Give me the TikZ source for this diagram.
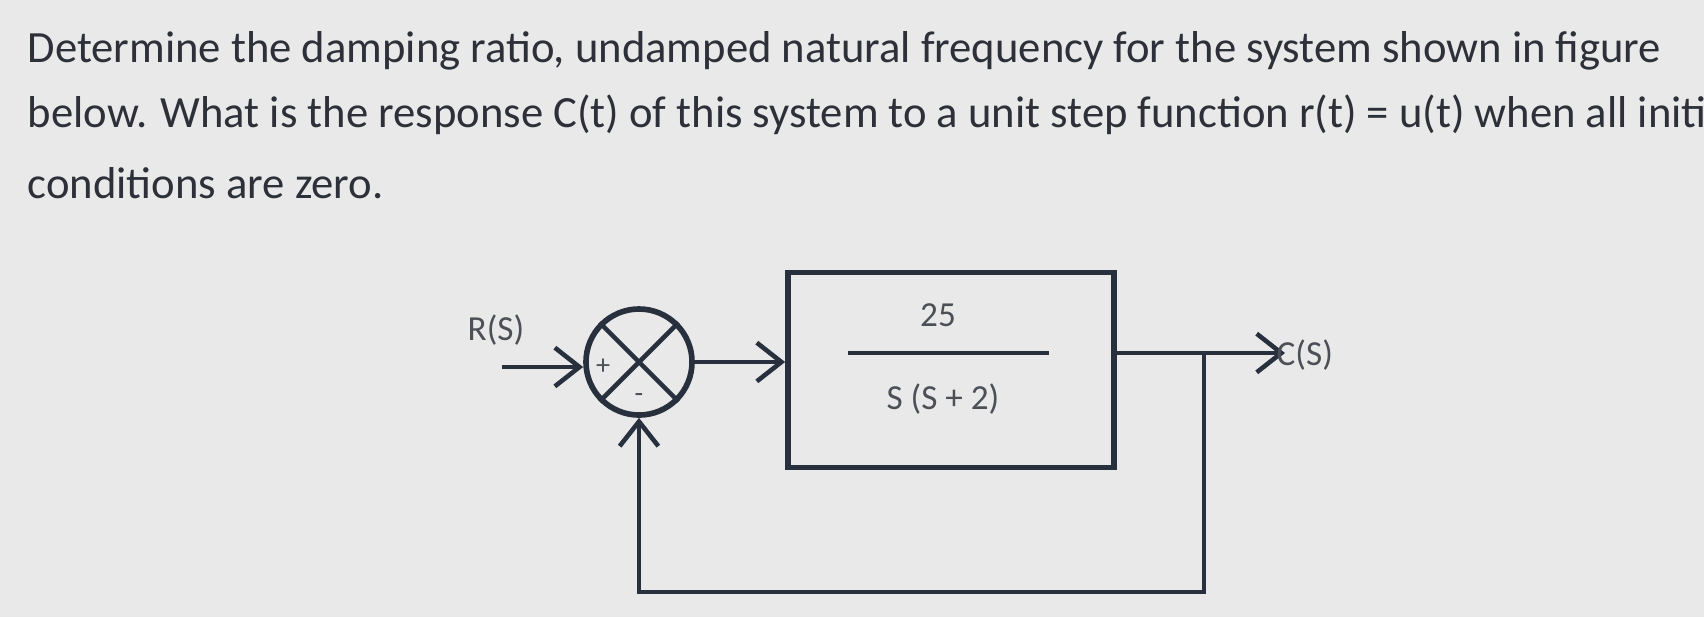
\documentclass[tikz,border=0pt]{standalone}
\usepackage{fontspec}
\setmainfont{Carlito}
\usetikzlibrary{arrows.meta}
\definecolor{ink}{RGB}{40,48,62}
\definecolor{txt}{RGB}{45,48,56}
\definecolor{bg}{RGB}{232,233,232}
\begin{document}
\begin{tikzpicture}[x=0.01cm,y=-0.01cm,
  wire/.style={draw=ink,line width=1.3pt},
  arr/.style={wire,-{Straight Barb[length=7pt,width=11pt,line width=1.3pt]}},
  para/.style={anchor=west,text=txt,font=\fontsize{12.7pt}{14pt}\selectfont,inner sep=0},
  lab/.style={text=txt!85,font=\fontsize{10pt}{11pt}\selectfont,inner sep=0}]
\fill[bg] (0,0) rectangle (1704,617);
\useasboundingbox (0,0) rectangle (1704,617);
\begin{scope}
\clip (0,0) rectangle (1704,617);
\node[para] (l1) at (27,51) {Determine the damping ratio, undamped natural frequency for the system shown in figure};
\node[para] (l2) at (27,115) {below. What is the response C(t) of this system to a unit step function r(t) = u(t) when all initial};
\node[para] (l3) at (27,183) {conditions are zero.};
\end{scope}
% summing junction
\node[circle,draw=ink,line width=1.6pt,minimum size=106pt*0.2845,inner sep=0] (sum) at (639,362) {};
\draw[wire] (sum.north west) -- (sum.south east) (sum.north east) -- (sum.south west);
\node[lab,font=\fontsize{8pt}{9pt}\selectfont] (plus) at (603,367) {+};
\node[lab,font=\fontsize{8pt}{9pt}\selectfont] (minus) at (639,398) {-};
% block
\node[draw=ink,line width=1.6pt,minimum width=326pt*0.2845,minimum height=195pt*0.2845,inner sep=0] (G) at (951,370) {};
\node[lab] (num) at (938,315) {25};
\node[lab] (den) at (943,399) {S (S + 2)};
\coordinate (fl) at (848,353); \coordinate (fr) at (1049,353);
\draw[wire] (fl) -- (fr);
% input
\node[lab,anchor=west] (R) at (467,330) {R(S)};
\coordinate (in) at (502,367);
\draw[arr] (in) -- (in -| sum.west);
% forward
\draw[arr] (sum.east) -- (sum.east -| G.west);
% output
\coordinate (out) at (1285,353);
\coordinate (br) at (1204,353);
\draw[arr] (G.east |- out) -- (out);
\node[lab,anchor=west] (C) at (1276,355) {C(S)};
% feedback
\coordinate (b1) at (1204,592);
\coordinate (b2) at (639,592);
\draw[arr] (br) -- (b1) -- (b2) -- (sum.south);
\end{tikzpicture}
\end{document}
